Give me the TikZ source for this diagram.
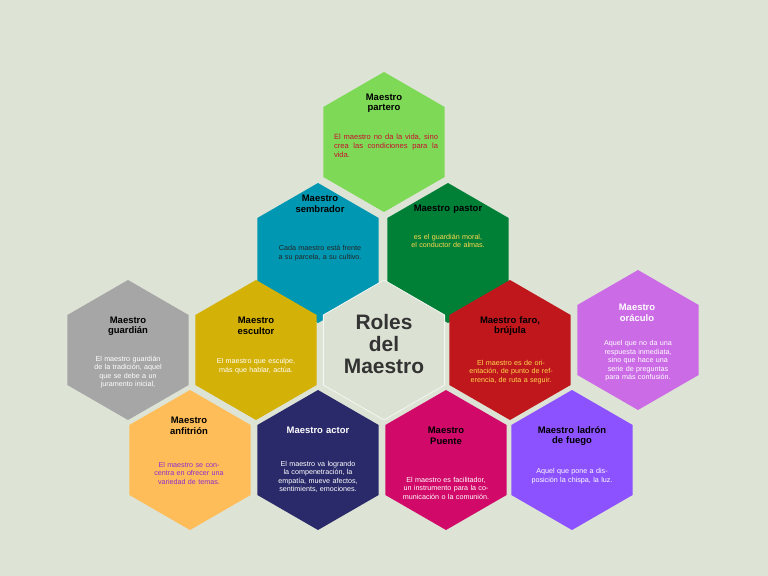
\documentclass[tikz,border=0pt]{standalone}
\usepackage{fontspec}
\setmainfont{Liberation Sans}
\definecolor{bg}{HTML}{DDE3D5}
\definecolor{cpart}{HTML}{7ED957}
\definecolor{csemb}{HTML}{0097B2}
\definecolor{cpast}{HTML}{008037}
\definecolor{cguar}{HTML}{A6A6A6}
\definecolor{cescu}{HTML}{D4B106}
\definecolor{cfaro}{HTML}{C0171C}
\definecolor{corac}{HTML}{CB6CE6}
\definecolor{canfi}{HTML}{FFBD59}
\definecolor{cacto}{HTML}{2A2A6B}
\definecolor{cpuen}{HTML}{D10A6A}
\definecolor{cladr}{HTML}{8C52FF}
\definecolor{tred}{HTML}{C8102E}
\definecolor{tyel}{HTML}{FFD84D}
\definecolor{tpur}{HTML}{8E2DC8}
\definecolor{ccen}{HTML}{DCE2D3}
\tikzset{
 ttl/.style={font=\bfseries\fontsize{9.5}{10.5}\selectfont,align=center,text width=95bp},
 body/.style={font=\fontsize{7.2}{8.6}\selectfont,align=center,text width=88bp,text=white},
}
\newcommand{\hexa}[4]{% name, x, y, color
 \fill[#4] (#2,#3) ++(30:70) -- ++(150:70) -- ++(210:70) -- ++(270:70) -- ++(330:70) -- ++(30:70) -- cycle;
 \coordinate (#1) at (#2,#3);}
\begin{document}
\begin{tikzpicture}[x=1bp,y=-1bp]
\fill[bg] (0,0) rectangle (768,576);
\useasboundingbox (0,0) rectangle (768,576);
\begin{scope}[y=1bp]
\end{scope}
% hexagons (y axis downward, angles mirrored but symmetric)
\hexa{part}{384}{142}{cpart}
\hexa{semb}{318}{253}{csemb}
\hexa{past}{448}{253}{cpast}
\hexa{guar}{128}{350}{cguar}
\hexa{escu}{256}{350}{cescu}
\hexa{cen}{384}{350}{ccen}
\draw[white!70!bg,line width=0.8] (384,350) ++(30:70) -- ++(150:70) -- ++(210:70) -- ++(270:70) -- ++(330:70) -- ++(30:70) -- cycle;
\hexa{faro}{510}{350}{cfaro}
\hexa{orac}{638}{340}{corac}
\hexa{anfi}{190}{460}{canfi}
\hexa{acto}{318}{460}{cacto}
\hexa{puen}{446}{460}{cpuen}
\hexa{ladr}{572}{460}{cladr}
% texts
\node[ttl] (tpart) at (384,103) {Maestro\\partero};
\node[body,text=tred,align=justify,text width=104bp,font=\fontsize{7.6}{9}\selectfont] (bpart) at (386,146) {El maestro no da la vida, sino crea las condiciones para la vida.};
\node[ttl] (tsemb) at (320,204) {Maestro\\sembrador};
\node[body,text=black!85] (bsemb) at (320,253) {Cada maestro está frente a su parcela, a su cultivo.};
\node[ttl] (tpast) at (448,209) {Maestro pastor};
\node[body,text=tyel] (bpast) at (448,241) {es el guardián moral, el conductor de almas.};
\node[ttl] (tguar) at (128,326) {Maestro\\guardián};
\node[body] (bguar) at (128,372) {El maestro guardián de la tradición, aquel que se debe a un juramento inicial,};
\node[ttl] (tescu) at (256,326) {Maestro\\escultor};
\node[body] (bescu) at (256,366) {El maestro que esculpe, más que hablar, actúa.};
\node[font=\bfseries\fontsize{21}{22}\selectfont,text=black!80,align=center] (tcen) at (384,344) {Roles\\del\\Maestro};
\node[ttl] (tfaro) at (510,326) {Maestro faro,\\brújula};
\node[body,text=tyel] (bfaro) at (511,372) {El maestro es de orientación, de punto de referencia, de ruta a seguir.};
\node[ttl,text=white] (torac) at (637,313) {Maestro\\oráculo};
\node[body] (borac) at (638,361) {Aquel que no da una respuesta inmediata, sino que hace una serie de preguntas para más confusión.};
\node[ttl] (tanfi) at (189,426) {Maestro\\anfitrión};
\node[body,text=tpur] (banfi) at (189,473) {El maestro se concentra en ofrecer una variedad de temas.};
\node[ttl,text=white] (tacto) at (318,430) {Maestro actor};
\node[body] (bacto) at (318,477) {El maestro va logrando la compenetración, la empatía, mueve afectos, sentimients, emociones.};
\node[ttl] (tpuen) at (446,436) {Maestro\\Puente};
\node[body] (bpuen) at (446,488) {El maestro es facilitador, un instrumento para la comunicación o la comunión.};
\node[ttl] (tladr) at (572,436) {Maestro ladrón\\de fuego};
\node[body] (bladr) at (572,476) {Aquel que pone a disposición la chispa, la luz.};
\end{tikzpicture}
\end{document}
